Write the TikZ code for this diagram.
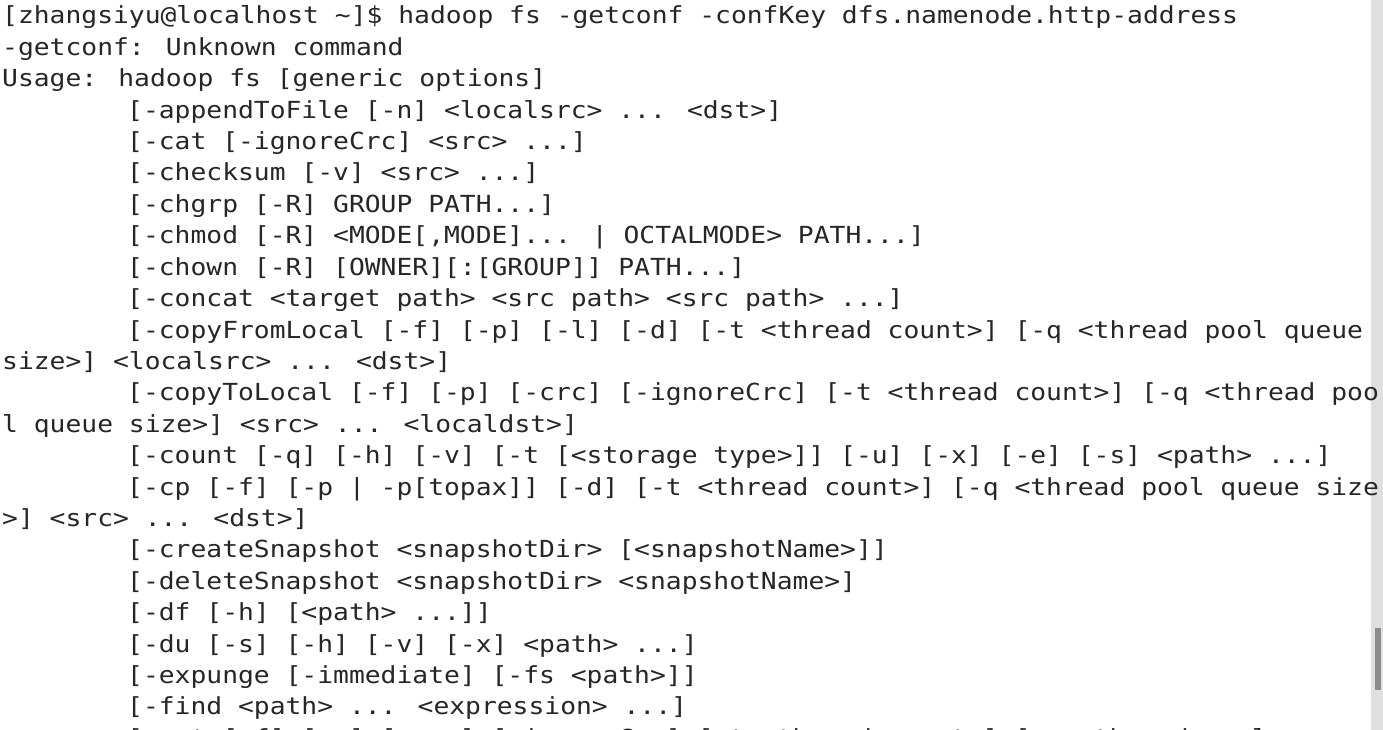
\documentclass[tikz,border=0pt]{standalone}
\usepackage{fontspec}
\newfontfamily\term[FakeStretch=1.12]{DejaVu Sans Mono}
\begin{document}
\begin{tikzpicture}[x=1pt,y=-1pt,
  ln/.style={anchor=base west,inner sep=0pt,font=\term\fontsize{23.5}{28}\selectfont,text=black!85}]
\useasboundingbox (0,0) rectangle (1383,730);
\clip (0,0) rectangle (1383,730);
\fill[white] (0,0) rectangle (1383,730);
\fill[black!12] (1371,0) rectangle (1383,730);
\fill[black!45] (1375,628) rectangle (1381,690);
\def\dy{31.4}
\def\ind{127}
\node[ln] (l1) at (2,24) {[zhangsiyu@localhost \textasciitilde]\$ hadoop fs -getconf -confKey dfs.namenode.http-address};
\node[ln] (l2) at (2,24+1*\dy) {-getconf: Unknown command};
\node[ln] (l3) at (2,24+2*\dy) {Usage: hadoop fs [generic options]};
\node[ln] (l4) at (\ind,24+3*\dy) {[-appendToFile [-n] <localsrc> ... <dst>]};
\node[ln] (l5) at (\ind,24+4*\dy) {[-cat [-ignoreCrc] <src> ...]};
\node[ln] (l6) at (\ind,24+5*\dy) {[-checksum [-v] <src> ...]};
\node[ln] (l7) at (\ind,24+6*\dy) {[-chgrp [-R] GROUP PATH...]};
\node[ln] (l8) at (\ind,24+7*\dy) {[-chmod [-R] <MODE[,MODE]... | OCTALMODE> PATH...]};
\node[ln] (l9) at (\ind,24+8*\dy) {[-chown [-R] [OWNER][:[GROUP]] PATH...]};
\node[ln] (l10) at (\ind,24+9*\dy) {[-concat <target path> <src path> <src path> ...]};
\node[ln] (l11) at (\ind,24+10*\dy) {[-copyFromLocal [-f] [-p] [-l] [-d] [-t <thread count>] [-q <thread pool queue};
\node[ln] (l12) at (2,24+11*\dy) {size>] <localsrc> ... <dst>]};
\node[ln] (l13) at (\ind,24+12*\dy) {[-copyToLocal [-f] [-p] [-crc] [-ignoreCrc] [-t <thread count>] [-q <thread poo};
\node[ln] (l14) at (2,24+13*\dy) {l queue size>] <src> ... <localdst>]};
\node[ln] (l15) at (\ind,24+14*\dy) {[-count [-q] [-h] [-v] [-t [<storage type>]] [-u] [-x] [-e] [-s] <path> ...]};
\node[ln] (l16) at (\ind,24+15*\dy) {[-cp [-f] [-p | -p[topax]] [-d] [-t <thread count>] [-q <thread pool queue size};
\node[ln] (l17) at (2,24+16*\dy) {>] <src> ... <dst>]};
\node[ln] (l18) at (\ind,24+17*\dy) {[-createSnapshot <snapshotDir> [<snapshotName>]]};
\node[ln] (l19) at (\ind,24+18*\dy) {[-deleteSnapshot <snapshotDir> <snapshotName>]};
\node[ln] (l20) at (\ind,24+19*\dy) {[-df [-h] [<path> ...]]};
\node[ln] (l21) at (\ind,24+20*\dy) {[-du [-s] [-h] [-v] [-x] <path> ...]};
\node[ln] (l22) at (\ind,24+21*\dy) {[-expunge [-immediate] [-fs <path>]]};
\node[ln] (l23) at (\ind,24+22*\dy) {[-find <path> ... <expression> ...]};
\node[ln] (l24) at (\ind,24+23*\dy) {[-get [-f] [-p] [-crc] [-ignoreCrc] [-t <thread count>] [-q <thread pool queue};
\end{tikzpicture}
\end{document}
